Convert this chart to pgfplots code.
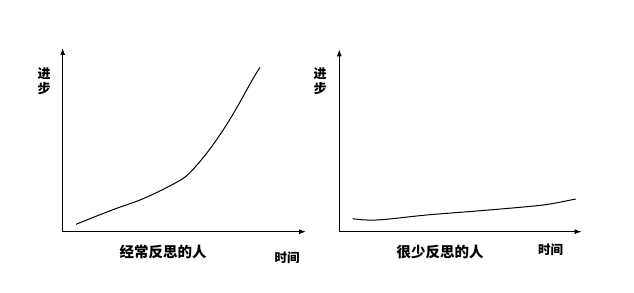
\documentclass[border=0pt]{standalone}
\usepackage{pgfplots}
\pgfplotsset{compat=1.18}
\usepackage{fontspec}
\newfontfamily\cjk{Noto Sans CJK SC}
\usetikzlibrary{arrows.meta}
\begin{document}
\begin{tikzpicture}[x=1pt,y=1pt]
\useasboundingbox[fill=white] (0,0) rectangle (634,292);
\pgfplotsset{myaxis/.style={
  x=1pt, y=1pt, anchor=south west, scale only axis,
  axis lines=left, enlargelimits=false, xmin=0, ymin=0,
  xtick=\empty, ytick=\empty,
  axis line style={line width=1.1pt, -{Latex[length=7pt,width=5pt]}},
  clip=false}}
% left panel
\begin{axis}[myaxis, at={(62.7,60.3)}, xmax=243.3, ymax=183.7]
\addplot[black, line width=1pt, smooth, tension=0.5] coordinates {
(13.3,7.4) (34.0,15.7) (54.0,23.4) (77.3,31.7) (100.6,42.4) (120.6,53.4)
(130,62) (140,73.5) (150,86.5) (160,101) (170,117) (180,134.5)
(190,152.5) (197.3,164.4)};
\end{axis}
% right panel
\begin{axis}[myaxis, at={(339.3,60.3)}, xmax=242.4, ymax=182.4]
\addplot[black, line width=1pt, smooth, tension=0.6] coordinates {
(13.4,13.0) (37.4,11.7) (87.4,16.7) (137.4,20.7) (187.4,25.0) (210.7,27.7) (236.4,32.7)};
\end{axis}
% labels
\begin{scope}[every node/.style={font=\cjk\bfseries, inner sep=0pt}]
\node[font=\cjk\bfseries\fontsize{13}{14}\selectfont, align=center] at (44,211) {进\\[1pt]步};
\node[font=\cjk\bfseries\fontsize{14.5}{16}\selectfont] at (163,40) {经常反思的人};
\node[font=\cjk\bfseries\fontsize{12.5}{13}\selectfont] at (287,34) {时间};
\node[font=\cjk\bfseries\fontsize{13}{14}\selectfont, align=center] at (320,211) {进\\[1pt]步};
\node[font=\cjk\bfseries\fontsize{14.5}{16}\selectfont] at (440,40) {很少反思的人};
\node[font=\cjk\bfseries\fontsize{12.5}{13}\selectfont] at (550.7,42) {时间};
\end{scope}
\end{tikzpicture}
\end{document}
